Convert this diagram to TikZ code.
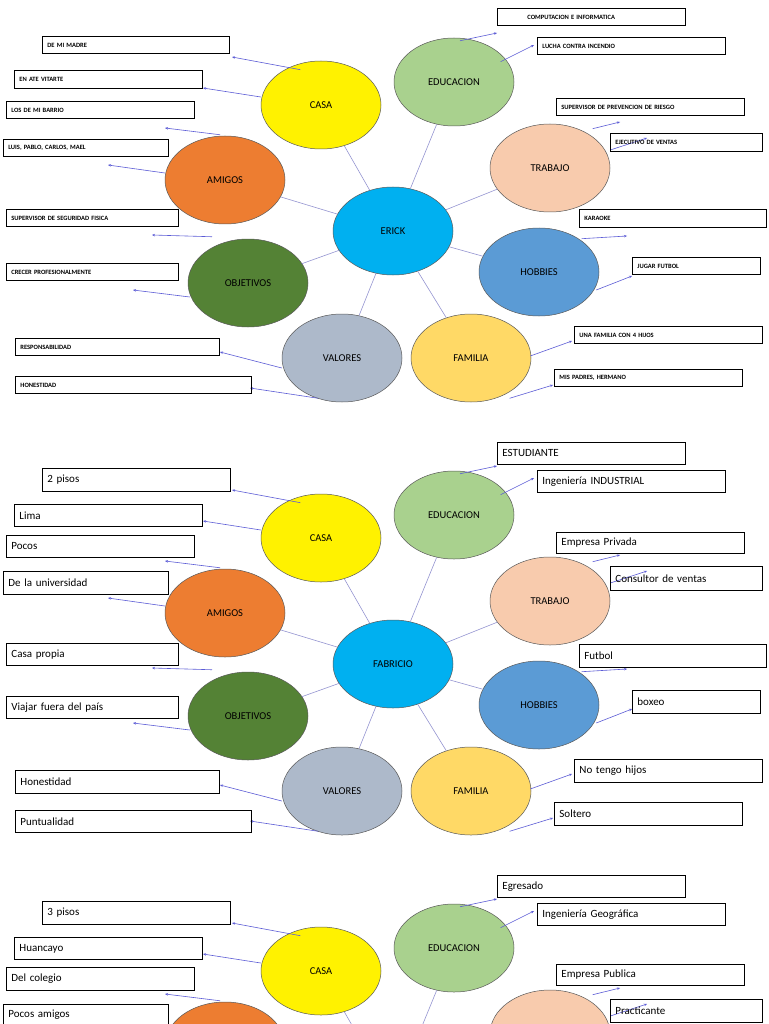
\documentclass[tikz,border=0pt]{standalone}
\usepackage{fontspec}
\setmainfont{Carlito}
\begin{document}
\begin{tikzpicture}[x=1pt,y=-1pt,
  bub/.style={ellipse,draw=gray!70!black,line width=0.5pt,minimum width=120pt,minimum height=88pt,inner sep=0pt,font=\fontsize{10.5}{11}\selectfont},
  lnk/.style={draw=blue!40!gray!60,line width=0.6pt},
  arr/.style={lnk,-{Stealth[length=3pt,width=2.5pt]},draw=blue!60!gray!80},
  lab/.style={draw,line width=0.8pt,anchor=north west,inner ysep=0pt,inner xsep=5pt,align=left},
  sm/.style={font=\fontsize{6.5}{7}\selectfont\bfseries},
  bg/.style={font=\fontsize{11}{12}\selectfont}]
\usetikzlibrary{shapes.geometric,arrows.meta}
\useasboundingbox (0,0) rectangle (768,1024);
\clip (0,0) rectangle (768,1024);
\fill[white] (0,0) rectangle (768,1024);
\newcommand{\lo}[1]{#1}
\newcommand{\bubbles}[3]{%
\begin{scope}[shift={(0,#1)}]
\node[bub,fill={rgb,255:red,0;green,176;blue,240}] (#2c) at (393,231) {#3};
\node[bub,fill=yellow] (#2casa) at (321,105) {CASA};
\node[bub,fill={rgb,255:red,169;green,209;blue,142}] (#2edu) at (454,82) {EDUCACION};
\node[bub,fill={rgb,255:red,237;green,125;blue,49}] (#2ami) at (225,180) {\lo{AMIGOS}};
\node[bub,fill={rgb,255:red,248;green,203;blue,173}] (#2tra) at (550,168) {\lo{TRABAJO}};
\node[bub,fill={rgb,255:red,84;green,130;blue,53}] (#2obj) at (248,283) {\lo{OBJETIVOS}};
\node[bub,fill={rgb,255:red,91;green,155;blue,213}] (#2hob) at (539,272) {\lo{HOBBIES}};
\node[bub,fill={rgb,255:red,173;green,185;blue,202}] (#2val) at (342,358) {\lo{VALORES}};
\node[bub,fill={rgb,255:red,255;green,217;blue,102}] (#2fam) at (471,358) {\lo{FAMILIA}};
\foreach \n in {casa,edu,ami,tra,obj,hob,val,fam}{\draw[lnk] (#2c) -- (#2\n);}
\coordinate (#2a1) at (232,57); \coordinate (#2a2) at (203,88);
\coordinate (#2a3) at (165,128); \coordinate (#2a4) at (108,165);
\coordinate (#2a5) at (152,235); \coordinate (#2a6) at (133,290);
\coordinate (#2a7) at (220,352); \coordinate (#2a8) at (250,388);
\coordinate (#2b1) at (497,33); \coordinate (#2b2) at (534,45);
\coordinate (#2b3) at (620,122); \coordinate (#2b4) at (647,138);
\coordinate (#2b5) at (627,236); \coordinate (#2b6) at (632,276);
\coordinate (#2b7) at (572,341); \coordinate (#2b8) at (553,385);
\draw[arr] (#2casa.north west) ++(22,-4) -- (#2a1);
\draw[arr] (#2casa.west) ++(0,-8) -- (#2a2);
\draw[arr] (#2ami.north) ++(-5,-1) -- (#2a3);
\draw[arr] (#2ami.west) ++(0,-7) -- (#2a4);
\draw[arr] (#2obj.north) ++(-36,-2) -- (#2a5);
\draw[arr] (#2obj.west) ++(2,14) -- (#2a6);
\draw[arr] (#2val.west) ++(0,10) -- (#2a7);
\draw[arr] (#2val.south) ++(-24,-4) -- (#2a8);
\draw[arr] (#2edu.north) ++(6,3) -- (#2b1);
\draw[arr] (#2edu.north east) ++(4,11) -- (#2b2);
\draw[arr] (#2tra.north east) ++(0,-8) -- (#2b3);
\draw[arr] (#2tra.east) ++(0,-18) -- (#2b4);
\draw[arr] (#2hob.north east) ++(0,-2) -- (#2b5);
\draw[arr] (#2hob.east) ++(-3,18) -- (#2b6);
\draw[arr] (#2fam.east) ++(-1,-2) -- (#2b7);
\draw[arr] (#2fam.south east) ++(-4,9) -- (#2b8);
\end{scope}}
\newcommand{\lbox}[6]{\node[lab,text width={#4-#2-10},minimum height={#5-#3}] (#1) at (#2,#3) {#6};}
% section 1
\bubbles{0}{e}{ERICK}
\begin{scope}[every node/.append style={sm}]
\lbox{e1}{497}{8}{685}{25}{\hspace{25pt}COMPUTACION E INFORMATICA}
\lbox{e2}{537}{37}{725}{54}{LUCHA CONTRA INCENDIO}
\lbox{e3}{42}{36}{229}{53}{DE MI MADRE}
\lbox{e4}{14}{70}{202}{88}{EN ATE VITARTE}
\lbox{e5}{6}{101}{194}{118}{LOS DE MI BARRIO}
\lbox{e6}{3}{139}{168}{156}{LUIS, PABLO, CARLOS, MAEL}
\lbox{e7}{556}{98}{744}{115}{SUPERVISOR DE PREVENCION DE RIESGO}
\lbox{e8}{610}{133}{762}{151}{EJECUTIVO DE VENTAS}
\lbox{e9}{579}{209}{766}{227}{KARAOKE}
\lbox{e10}{6}{209}{178}{226}{SUPERVISOR DE SEGURIDAD FISICA}
\lbox{e11}{632}{257}{760}{274}{JUGAR FUTBOL}
\lbox{e12}{6}{263}{178}{280}{CRECER PROFESIONALMENTE}
\lbox{e13}{574}{326}{762}{343}{UNA FAMILIA CON 4 HIJOS}
\lbox{e14}{15}{338}{219}{355}{RESPONSABILIDAD}
\lbox{e15}{554}{369}{742}{386}{MIS PADRES, HERMANO}
\lbox{e16}{15}{376}{251}{393}{HONESTIDAD}
\end{scope}
% section 2
\bubbles{433}{f}{FABRICIO}
\begin{scope}[every node/.append style={bg}]
\lbox{f1}{497}{442}{685}{464}{ESTUDIANTE}
\lbox{f2}{537}{470}{725}{492}{Ingeniería INDUSTRIAL}
\lbox{f3}{42}{468}{230}{491}{2 pisos}
\lbox{f4}{14}{504}{202}{526}{Lima}
\lbox{f5}{6}{535}{194}{557}{Pocos}
\lbox{f6}{3}{571}{168}{594}{De la universidad}
\lbox{f7}{556}{532}{744}{553}{Empresa Privada}
\lbox{f8}{610}{566}{762}{590}{Consultor de ventas}
\lbox{f9}{579}{644}{766}{667}{Futbol}
\lbox{f10}{6}{643}{178}{665}{Casa propia}
\lbox{f11}{632}{690}{760}{713}{boxeo}
\lbox{f12}{6}{696}{178}{718}{Viajar fuera del país}
\lbox{f13}{574}{759}{762}{782}{No tengo hijos}
\lbox{f14}{15}{770}{219}{793}{Honestidad}
\lbox{f15}{554}{802}{742}{825}{Soltero}
\lbox{f16}{15}{810}{251}{832}{Puntualidad}
\end{scope}
% section 3 (cut off by the page edge)
\renewcommand{\lo}[1]{}
\bubbles{866}{g}{}
\begin{scope}[every node/.append style={bg}]
\lbox{g1}{497}{875}{685}{897}{Egresado}
\lbox{g2}{537}{903}{725}{925}{Ingeniería Geográfica}
\lbox{g3}{42}{901}{230}{924}{3 pisos}
\lbox{g4}{14}{937}{202}{959}{Huancayo}
\lbox{g5}{6}{967}{194}{990}{Del colegio}
\lbox{g6}{3}{1004}{168}{1024}{Pocos amigos}
\lbox{g7}{556}{964}{744}{985}{Empresa Publica}
\lbox{g8}{610}{999}{762}{1022}{Practicante}
\end{scope}
\end{tikzpicture}
\end{document}
